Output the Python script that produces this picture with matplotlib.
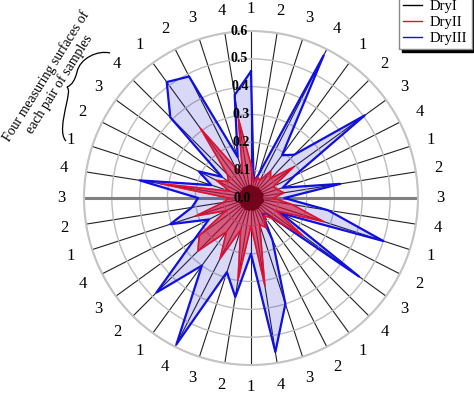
import numpy as np
import matplotlib
matplotlib.use('Agg')
import matplotlib.pyplot as plt
from matplotlib.path import Path
from matplotlib.patches import PathPatch

plt.rcParams['font.family'] = ['Liberation Serif', 'DejaVu Serif']

# Spoke labels: four measuring surfaces, ten pairs of samples
spoke_labels = ['1', '2', '3', '4'] * 10

# Values (clockwise from top)
dry3 = [0.455, 0.06, 0.09, 0.575, 0.19, 0.22, 0.505, 0.175, 0.12, 0.325,
        0.12, 0.28, 0.50, 0.12, 0.48, 0.08, 0.07, 0.17, 0.40, 0.56,
        0.20, 0.36, 0.28, 0.59, 0.30, 0.48, 0.25, 0.17, 0.305, 0.215,
        0.19, 0.405, 0.15, 0.21, 0.13, 0.41, 0.515, 0.49, 0.155, 0.375]
dry2 = [0.12, 0.06, 0.08, 0.07, 0.12, 0.10, 0.19, 0.09, 0.10, 0.12,
        0.08, 0.15, 0.275, 0.10, 0.23, 0.10, 0.08, 0.12, 0.10, 0.32,
        0.10, 0.30, 0.12, 0.245, 0.15, 0.27, 0.23, 0.10, 0.21, 0.10,
        0.08, 0.33, 0.08, 0.14, 0.10, 0.12, 0.31, 0.12, 0.10, 0.29]
dry1 = [0.045, 0.04, 0.042, 0.038, 0.045, 0.04, 0.043, 0.04, 0.045, 0.042,
        0.04, 0.044, 0.045, 0.04, 0.042, 0.04, 0.045, 0.04, 0.043, 0.045,
        0.04, 0.045, 0.042, 0.045, 0.04, 0.044, 0.042, 0.04, 0.045, 0.04,
        0.042, 0.045, 0.04, 0.043, 0.04, 0.042, 0.045, 0.04, 0.043, 0.045]
r_ticks = [0.0, 0.1, 0.2, 0.3, 0.4, 0.5, 0.6]

n = len(spoke_labels)
theta = np.arange(n) * 2 * np.pi / n
th = np.append(theta, theta[0])


def closed(v):
    return np.append(v, v[0])


fig = plt.figure(figsize=(4.74, 3.95), dpi=100)
ax = fig.add_axes([0.1772, 0.0759, 0.7046, 0.8456], projection='polar')
ax.set_theta_zero_location('N')
ax.set_theta_direction(-1)
ax.set_ylim(0, 0.6)

# grid: black spokes, grey circles
ax.set_xticks(theta)
ax.set_xticklabels([])
ax.set_yticks(r_ticks[1:])
ax.set_yticklabels([])
ax.xaxis.grid(True, color='#222222', lw=0.8)
ax.yaxis.grid(True, color='#bdbdbd', lw=1.0)
ax.spines['polar'].set_color('#c4c4c4')
ax.spines['polar'].set_linewidth(1.5)
ax.tick_params(axis='both', length=0)
ax.set_axisbelow(True)

# horizontal axis line
ax.plot([np.pi / 2, np.pi / 2], [0, 0.6], color='#808080', lw=2.2, zorder=1)
ax.plot([3 * np.pi / 2, 3 * np.pi / 2], [0, 0.6], color='#808080', lw=2.2, zorder=1)

# series
ax.fill(th, closed(dry3), color='#2020d0', alpha=0.17, zorder=2)
ax.plot(th, closed(dry3), color='#1010e0', lw=1.6, zorder=3)
ax.fill(th, closed(dry2), color='#d01035', alpha=0.62, zorder=4)
ax.plot(th, closed(dry2), color='#e0102e', lw=1.1, zorder=5)
ax.fill(th, closed(dry1), color='#700018', alpha=0.9, zorder=6)
ax.plot(th, closed(dry1), color='#7a0018', lw=0.8, zorder=7)

# spoke labels outside
for t, lab in zip(theta, spoke_labels):
    ax.text(t, 0.68, lab, ha='center', va='center', fontsize=12)

# radial labels along the top spoke
for r in r_ticks:
    ax.text(-0.02, r, '%.1f' % r, ha='right', va='center', fontsize=10,
            fontweight='bold', zorder=8)

# legend
h1, = ax.plot([], [], color='black', lw=1, label='DryI')
h2, = ax.plot([], [], color='#e0102e', lw=1, label='DryII')
h3, = ax.plot([], [], color='#1010e0', lw=1, label='DryIII')
leg = fig.legend(handles=[h1, h2, h3], loc='upper left',
                 bbox_to_anchor=(399 / 474, 1.012), fontsize=10.5,
                 fancybox=False, edgecolor='#888888', framealpha=1,
                 handlelength=1.3, handletextpad=0.5, borderpad=0.3,
                 labelspacing=0.2, borderaxespad=0,
                 shadow={'color': 'black', 'alpha': 1})

# annotation text with brace
fig.text(53 / 474, 1 - 80 / 395, 'Four measuring surfaces of\neach pair of samples',
         rotation=58, ha='center', va='center', fontsize=10,
         multialignment='center', linespacing=1.1)

W, H = 474.0, 395.0
pts = [(110, 53), (98, 50), (80, 58), (77, 72),
       (75, 80), (72, 85), (67, 87),
       (70, 90), (68, 96), (66, 106),
       (63, 120), (60, 135), (66, 141)]
codes = [Path.MOVETO] + [Path.CURVE4] * 12
verts = [(x / W, 1 - y / H) for x, y in pts]
brace = PathPatch(Path(verts, codes), facecolor='none', edgecolor='black',
                  lw=0.9, transform=fig.transFigure)
fig.patches.append(brace)

plt.savefig('out.png', dpi=100)
